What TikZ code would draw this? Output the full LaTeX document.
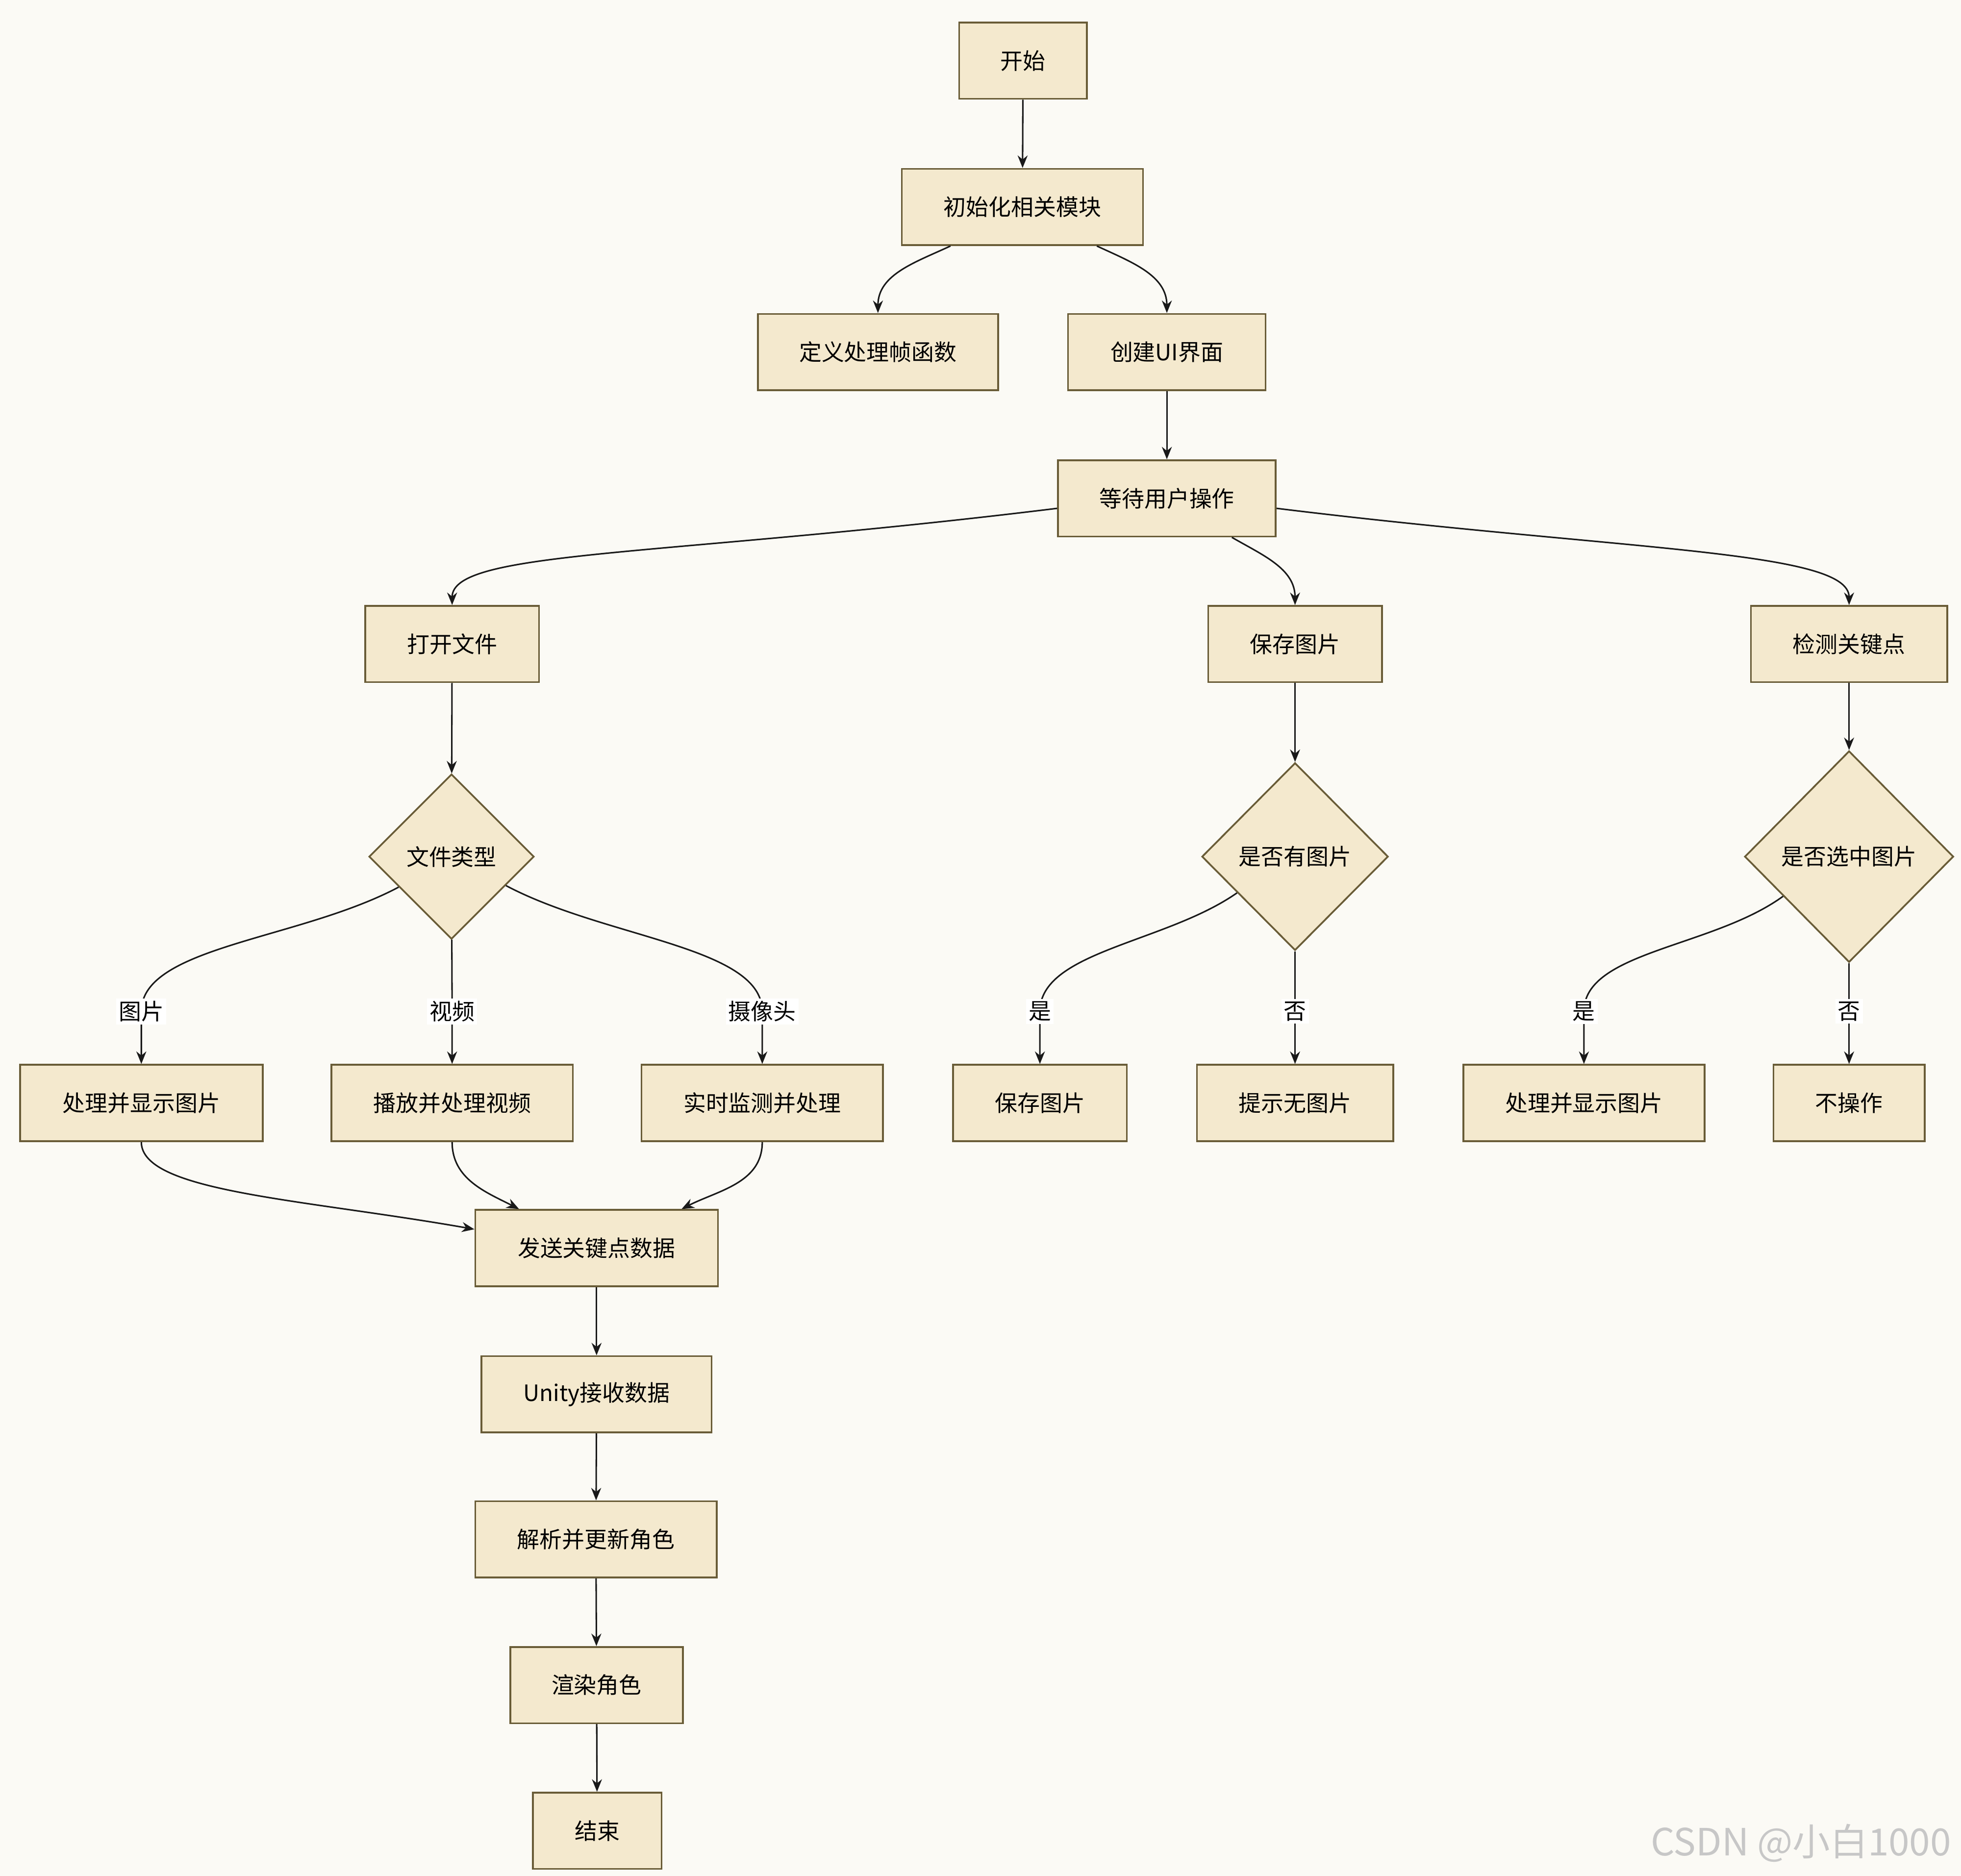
\documentclass[tikz,border=0pt]{standalone}
\usepackage{fontspec}
\usepackage{tikz}
\usetikzlibrary{arrows.meta,shapes.geometric}
\newfontfamily\cjk{Noto Sans CJK SC}
\definecolor{paper}{RGB}{251,250,245}
\definecolor{boxfill}{RGB}{244,233,206}
\definecolor{boxline}{RGB}{105,92,55}

\begin{document}
\begin{tikzpicture}
    [x=0.5pt, y=-0.5pt,
    every node/.style={font=\cjk\fontsize{9}{11}\selectfont, text=black},
    box/.style={rectangle, draw=boxline, fill=boxfill, line width=0.7pt, minimum height=30.5pt, inner sep=0pt},
    choice/.style={diamond, draw=boxline, fill=boxfill, line width=0.7pt, inner sep=0pt},
    lbl/.style={fill=white, inner sep=1pt},
    arr/.style={-{Stealth[length=5pt,width=4pt]}, line width=0.6pt, black!90}]

\fill[paper] (0,0) rectangle (1568,1500);
\useasboundingbox (0,0) rectangle (1568,1500);

\node[box, minimum width=51pt] (start) at (818,48.5) {开始};
\node[box, minimum width=96.5pt] (init) at (817.5,165.5) {初始化相关模块};
\node[box, minimum width=96pt] (deffunc) at (702,281.5) {定义处理帧函数};
\node[box, minimum width=79pt] (mkui) at (933,281.5) {创建UI界面};
\node[box, minimum width=87pt] (wait) at (933,398.5) {等待用户操作};

\node[box, minimum width=69.5pt] (openfile) at (361.5,515) {打开文件};
\node[box, minimum width=69.5pt] (saveimg) at (1035.5,515) {保存图片};
\node[box, minimum width=78.5pt] (detect) at (1478.5,515) {检测关键点};

\node[choice, minimum width=66pt, minimum height=66pt] (ftype) at (361,685) {文件类型};
\node[choice, minimum width=74.5pt, minimum height=75pt] (hasimg) at (1035.5,685) {是否有图片};
\node[choice, minimum width=83.5pt, minimum height=84.5pt] (selimg) at (1478.5,685) {是否选中图片};

\node[box, minimum width=97pt] (showimg) at (113,882) {处理并显示图片};
\node[box, minimum width=96.5pt] (playvid) at (361.5,882) {播放并处理视频};
\node[box, minimum width=96.5pt] (camera) at (609.5,882) {实时监测并处理};
\node[box, minimum width=69.5pt] (dosave) at (831.5,882) {保存图片};
\node[box, minimum width=78.5pt] (noimg) at (1035.5,882) {提示无图片};
\node[box, minimum width=96.5pt] (showsel) at (1266.5,882) {处理并显示图片};
\node[box, minimum width=60.5pt] (noop) at (1478.5,882) {不操作};

\node[box, minimum width=97pt] (send) at (477,998) {发送关键点数据};
\node[box, minimum width=92pt] (unity) at (477,1115) {Unity接收数据};
\node[box, minimum width=96.5pt] (parse) at (476.5,1231) {解析并更新角色};
\node[box, minimum width=69pt] (render) at (477,1347.5) {渲染角色};
\node[box, minimum width=51.5pt] (finish) at (477.5,1464) {结束};

\node[text=black!22, font=\cjk\fontsize{15}{18}\selectfont] (mark) at (1440,1474) {CSDN @小白1000};

\draw[arr] (start) -- (init);
\draw[arr] ([xshift=-28.75pt]init.south) to[out=205,in=90] (deffunc.north);
\draw[arr] ([xshift=29.75pt]init.south) to[out=-25,in=90] (mkui.north);
\draw[arr] (mkui) -- (wait);
\draw[arr] ([yshift=-4pt]wait.west) to[out=187,in=90,out distance=160pt,in distance=22pt] (openfile.north);
\draw[arr] ([xshift=26pt]wait.south) to[out=-30,in=90] (saveimg.north);
\draw[arr] ([yshift=-4pt]wait.east) to[out=-7,in=90,out distance=140pt,in distance=22pt] (detect.north);
\draw[arr] (openfile) -- (ftype);
\draw[arr] (saveimg) -- (hasimg);
\draw[arr] (detect) -- (selimg);

\draw[arr] (ftype.210) to[out=208,in=90,out distance=45pt,in distance=26pt] ([yshift=21pt]showimg.north) node[lbl] {图片} -- (showimg.north);
\draw[arr] (ftype) -- ([yshift=21pt]playvid.north) node[lbl] {视频} -- (playvid.north);
\draw[arr] (ftype.-28) to[out=-28,in=90,out distance=45pt,in distance=26pt] ([yshift=21pt]camera.north) node[lbl] {摄像头} -- (camera.north);
\draw[arr] (hasimg.212) to[out=215,in=90,out distance=35pt,in distance=24pt] ([yshift=21pt]dosave.north) node[lbl] {是} -- (dosave.north);
\draw[arr] (hasimg) -- ([yshift=21pt]noimg.north) node[lbl] {否} -- (noimg.north);
\draw[arr] (selimg.211) to[out=216,in=90,out distance=35pt,in distance=24pt] ([yshift=21pt]showsel.north) node[lbl] {是} -- (showsel.north);
\draw[arr] (selimg) -- ([yshift=21pt]noop.north) node[lbl] {否} -- (noop.north);

\draw[arr] (showimg.south) to[out=-90,in=170,out distance=20pt,in distance=70pt] ([yshift=7.5pt]send.west);
\draw[arr] (playvid.south) to[out=-90,in=153] ([xshift=-31pt]send.north);
\draw[arr] (camera.south) to[out=-90,in=27] ([xshift=34pt]send.north);
\foreach \a/\b in {send/unity, unity/parse, parse/render, render/finish}
    \draw[arr] (\a) -- (\b);
\end{tikzpicture}
\end{document}
